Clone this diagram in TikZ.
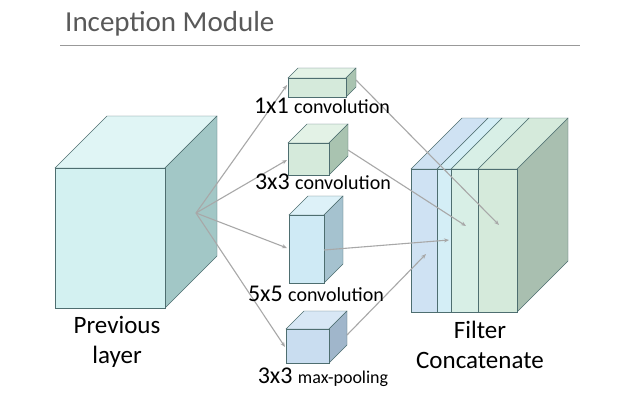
\documentclass[tikz,border=0pt]{standalone}
\usepackage{fontspec}
\setmainfont{Carlito}
\usetikzlibrary{arrows.meta}
\definecolor{edge}{HTML}{4E6E70}
\definecolor{arr}{HTML}{A8A8A8}
\definecolor{sA}{HTML}{A9BFB0}
\definecolor{sG}{HTML}{D5EADB}
\definecolor{sM}{HTML}{D8EFE6}
\definecolor{sC}{HTML}{D4EEF6}
\definecolor{sB}{HTML}{CFE2F3}
\newcommand\mybox[9]{%
 \definecolor{cF}{HTML}{#6}\definecolor{cT}{HTML}{#7}\definecolor{cS}{HTML}{#8}%
 \filldraw[draw=edge,fill=cT] (#1,#2) -- (#1+#5,#2-#5) -- (#3+#5,#2-#5) -- (#3,#2) -- cycle;
 \filldraw[draw=edge,fill=cS] (#3,#2) -- (#3+#5,#2-#5) -- (#3+#5,#4-#5) -- (#3,#4) -- cycle;
 \filldraw[draw=edge,fill=cF] (#1,#2) rectangle (#3,#4);
}
\tikzset{a/.style={draw=arr,line width=1.1pt,-{Stealth[length=5pt,width=4pt]}},
 lbl/.style={font=\fontsize{24}{24}\selectfont,text=black,inner sep=0pt}}
\begin{document}
\begin{tikzpicture}[x=1pt,y=-1pt]
\useasboundingbox (0,0) rectangle (620,418);
\fill[white] (0,0) rectangle (620,418);
\node[anchor=west,text=black!65,font=\fontsize{29}{29}\selectfont,inner sep=0pt] (title) at (65,24) {Inception Module};
\draw[black!40,line width=0.8pt] (60,45) -- (580,45);
% previous layer
\mybox{55}{168}{165}{308}{52}{D3F1F1}{E0F5F5}{A2C7C6}{prev}
% boxes
\mybox{288}{78}{346}{97}{10}{D5EADB}{E3F2E6}{A9C3B0}{b1}
\mybox{288}{143}{329}{175}{19}{D5EADB}{E3F2E6}{A9C3B0}{b2}
\mybox{289}{215}{324}{283}{19}{CFEAF5}{DDF1F8}{A5C2CF}{b3}
\mybox{286}{329}{329}{363}{18}{C9DDF0}{D8E7F5}{A0B6CB}{b4}
% concat stack
\filldraw[draw=edge,fill=sA] (517,169) -- (568,118) -- (568,261) -- (517,312) -- cycle;
\filldraw[draw=edge,fill=sG] (478,169) -- (529,118) -- (568,118) -- (517,169) -- cycle;
\filldraw[draw=edge,fill=sM] (451,169) -- (502,118) -- (529,118) -- (478,169) -- cycle;
\filldraw[draw=edge,fill=sC] (437,169) -- (488,118) -- (502,118) -- (451,169) -- cycle;
\filldraw[draw=edge,fill=sB] (411,169) -- (462,118) -- (488,118) -- (437,169) -- cycle;
\filldraw[draw=edge,fill=sB] (411,169) rectangle (437,312);
\filldraw[draw=edge,fill=sC] (437,169) rectangle (451,312);
\filldraw[draw=edge,fill=sM] (451,169) rectangle (478,312);
\filldraw[draw=edge,fill=sG] (478,169) rectangle (517,312);
% coordinates
\coordinate (src) at (196,213);
\coordinate (i1) at (287,85);
\coordinate (i2) at (287,160);
\coordinate (i3) at (287,248);
\coordinate (i4) at (285,347);
\coordinate (o1) at (356,80);
\coordinate (o2) at (348,150);
\coordinate (o3) at (324,250);
\coordinate (o4) at (347,335);
\coordinate (t1) at (499,225);
\coordinate (t2) at (466,226);
\coordinate (t3) at (449,240);
\coordinate (t4) at (426,254);
\foreach \i in {1,...,4}{\draw[a] (src) -- (i\i); \draw[a] (o\i) -- (t\i);}
% labels
\node[lbl] (l1) at (322,106) {1x1 {\fontsize{20}{20}\selectfont convolution}};
\node[lbl] (l2) at (323,182) {3x3 {\fontsize{20}{20}\selectfont convolution}};
\node[lbl] (l3) at (316,294) {5x5 {\fontsize{20}{20}\selectfont convolution}};
\node[lbl] (l4) at (323,377) {3x3 {\fontsize{18}{18}\selectfont max-pooling}};
\node[lbl,align=center,font=\fontsize{25}{30}\selectfont] (pl) at (117,342) {Previous\\layer};
\node[lbl,align=center,font=\fontsize{25}{30}\selectfont] (fc) at (480,345) {Filter\\Concatenate};
\end{tikzpicture}
\end{document}
